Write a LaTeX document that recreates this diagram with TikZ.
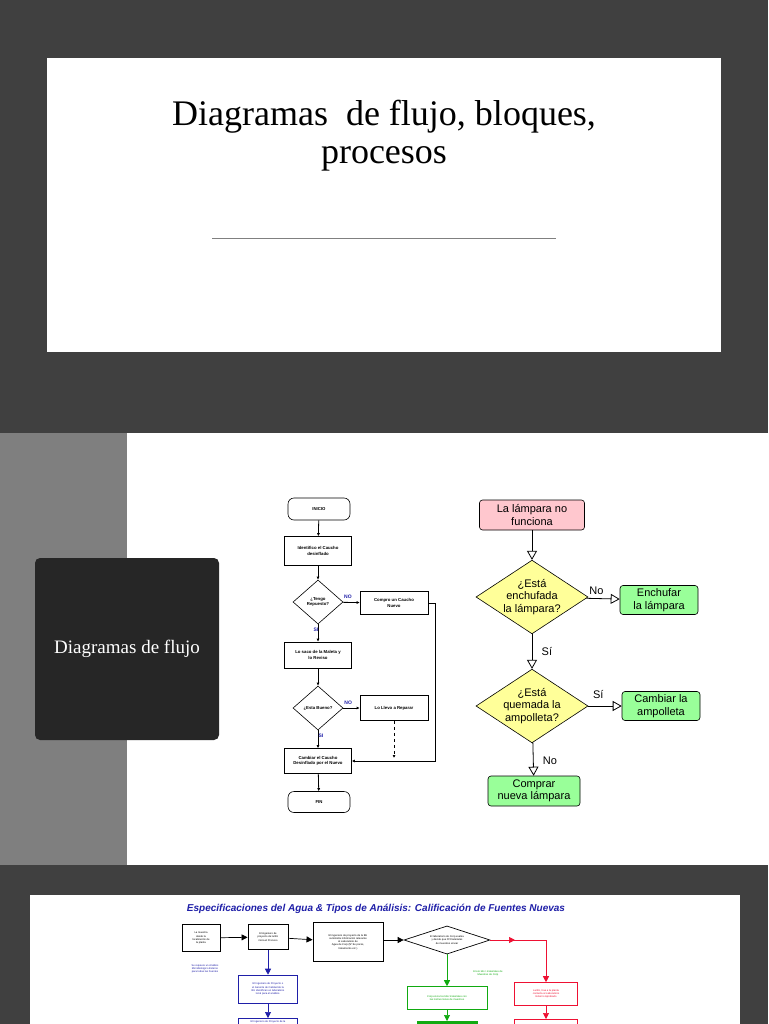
\documentclass[tikz,border=0pt]{standalone}
\usepackage{fontspec}
\newfontfamily\sans{Liberation Sans}
\newfontfamily\serif{Liberation Serif}
\usetikzlibrary{shapes.geometric,arrows.meta}
\definecolor{bgd}{HTML}{404040}
\definecolor{strip}{HTML}{7F7F7F}
\definecolor{pinkf}{HTML}{FFC7CE}
\definecolor{yel}{HTML}{FFFF99}
\definecolor{grn}{HTML}{99FF99}
\definecolor{tblue}{HTML}{1F1FA8}
\definecolor{tred}{HTML}{EE1133}
\definecolor{tgrn}{HTML}{11AA11}
\begin{document}
\begin{tikzpicture}[x=1pt,y=-1pt,
  lbox/.style={draw,line width=0.6pt,font=\sans\bfseries\fontsize{4.3}{5.3}\selectfont,align=center,inner sep=1pt},
  ldia/.style={lbox,diamond,shape aspect=1,minimum width=50pt,minimum height=44pt,inner sep=0pt},
  la/.style={-{Latex[length=3pt,width=3pt]},line width=0.8pt},
  rbox/.style={draw,line width=0.6pt,font=\sans\fontsize{11}{12.5}\selectfont,align=center,inner sep=1pt},
  ra/.style={-{Triangle[open,length=9pt,width=10pt,fill=white]},line width=0.8pt},
  rl/.style={font=\sans\fontsize{11}{12}\selectfont},
  tb/.style={draw,line width=0.6pt,font=\sans\fontsize{2.6}{3.2}\selectfont,align=center,inner sep=1pt},
  ta/.style={-{Triangle[length=6pt,width=6pt]},line width=0.7pt}]
\useasboundingbox (0,0) rectangle (768,1024);
\fill[bgd] (0,0) rectangle (768,1024);
% slide 1
\fill[white] (47,58) rectangle (721,352);
\node[font=\serif\fontsize{36}{38}\selectfont,align=center] (title) at (384,136) {Diagramas\ \ de flujo, bloques,\\procesos};
\draw[gray,line width=0.8pt] (212,238) -- (556,238);
% slide 2
\fill[white] (0,433) rectangle (768,865);
\fill[strip] (0,433) rectangle (127,865);
\fill[black!85,rounded corners=5pt] (35,558) rectangle (219,740);
\node[white,font=\serif\fontsize{19}{20}\selectfont] (st) at (127,649) {Diagramas de flujo};
% left flowchart
\node[lbox,rounded corners=6pt,minimum width=62pt,minimum height=22pt] (ini) at (319,509) {INICIO};
\node[lbox,minimum width=67pt,minimum height=29pt] (b1) at (318,551) {Identifico el Caucho\\desinflado};
\node[ldia] (d1) at (318,602) {¿Tengo\\Repuesto?};
\node[lbox,minimum width=68pt,minimum height=23pt] (b2) at (394,603) {Compro un Caucho\\Nuevo};
\node[lbox,minimum width=67pt,minimum height=26pt] (b3) at (318,655) {Lo saco de la Maleta y\\lo Reviso};
\node[ldia] (d2) at (318,708) {¿Esta Bueno?};
\node[lbox,minimum width=68pt,minimum height=25pt] (b4) at (394,708) {Lo Llevo a Reparar};
\node[lbox,minimum width=67pt,minimum height=25pt] (b5) at (318,761) {Cambiar el Caucho\\Desinflado por el Nuevo};
\node[lbox,rounded corners=6pt,minimum width=62pt,minimum height=21pt] (fin) at (319,802) {FIN};
\draw[la] (ini) -- (b1);
\draw[la] (b1) -- (d1);
\draw[la] (d1) -- node[above,pos=0.3,font=\sans\bfseries\fontsize{5}{6}\selectfont,text=tblue]{NO} (b2);
\draw[la] (d1) -- node[left,pos=0.3,font=\sans\bfseries\fontsize{5}{6}\selectfont,text=tblue,xshift=4pt]{SI} (b3);
\draw[la] (b3) -- (d2);
\draw[la] (d2) -- node[above,pos=0.3,font=\sans\bfseries\fontsize{5}{6}\selectfont,text=tblue]{NO} (b4);
\draw[la] (d2) -- node[left,pos=0.3,font=\sans\bfseries\fontsize{5}{6}\selectfont,text=tblue,xshift=9pt]{SI} (b5);
\draw[la] (b5) -- (fin);
\draw[la] (b2.east) -| (435,761) -- (b5.east);
\coordinate (dash) at (b4.south |- 0,758);
\draw[la,dashed] (b4.south) -- (dash);
% right flowchart
\node[rbox,fill=pinkf,rounded corners=3pt,minimum width=105pt,minimum height=30pt] (p) at (532,515) {La lámpara no\\funciona};
\node[rbox,fill=yel,diamond,aspect=1.5,minimum width=112pt,inner sep=0pt] (q1) at (532,597) {¿Está\\enchufada\\la lámpara?};
\node[rbox,fill=grn,rounded corners=3pt,minimum width=78pt,minimum height=29pt] (e1) at (659,600) {Enchufar\\la lámpara};
\node[rbox,fill=yel,diamond,aspect=1.5,minimum width=112pt,inner sep=0pt] (q2) at (532,706) {¿Está\\quemada la\\ampolleta?};
\node[rbox,fill=grn,rounded corners=3pt,minimum width=78pt,minimum height=29pt] (e2) at (661,706) {Cambiar la\\ampolleta};
\node[rbox,fill=grn,rounded corners=3pt,minimum width=92pt,minimum height=30pt] (e3) at (534,791) {Comprar\\nueva lámpara};
\draw[ra] (p) -- (q1);
\draw[ra] (q1) -- node[rl,above,pos=0.3]{No} (e1);
\draw[ra] (q1) -- node[rl,right,xshift=6pt]{Sí} (q2);
\draw[ra] (q2) -- node[rl,above,pos=0.3,yshift=4pt]{Sí} (e2);
\draw[ra] (q2) -- node[rl,right,xshift=6pt,yshift=-2pt]{No} (e3);
% slide 3
\fill[white] (30,895) rectangle (740,1024);
\node[font=\sans\bfseries\itshape\fontsize{10}{12}\selectfont,text=tblue] (t3) at (376,909) {Especificaciones del Agua \& Tipos de Análisis: Calificación de Fuentes Nuevas};
\node[tb,line width=0.9pt,minimum width=38pt,minimum height=27pt] (a) at (201,938) {La muestra\\desde la\\localización de\\la planta};
\node[tb,line width=0.9pt,minimum width=40pt,minimum height=25pt] (b) at (268,937) {El ingeniero de\\proyecto de la BU\\inicia el Proceso};
\node[tb,line width=0.9pt,minimum width=70pt,minimum height=39pt] (c) at (348,942) {El ingeniero de proyecto de la BU\\suministra información relevante\\al Laboratorio de\\Agua de Corp (Nº de pozos,\\tratamiento etc.)};
\node[tb,line width=0.7pt,diamond,aspect=1.7,minimum width=86pt,inner sep=0pt] (d) at (447,940) {El laboratorio de Corp evalúa\\y decide que Nº/materiales\\de muestreo enviar};
\node[font=\sans\fontsize{2.6}{3.2}\selectfont,text=tblue,align=center] (bt) at (205,969) {Se requiere un Análisis\\Microbiológico Externo\\para todas las Fuentes};
\node[tb,draw=tblue,text=tblue,minimum width=59pt,minimum height=28pt] (bb1) at (268,989) {El Ingeniero de Proyecto o\\el Gerente de Calidad de la\\BU identifican un laboratorio\\local para el análisis.};
\node[tb,draw=tblue,text=tblue,minimum width=59pt,minimum height=9pt,anchor=north,inner sep=0.5pt] (bb2) at (268,1018) {El Ingeniero de Proyecto de la\\ };
\node[font=\sans\fontsize{2.6}{3.2}\selectfont,text=tgrn,align=center] (gt) at (488,973) {Envío kits / materiales de\\Muestreo de Corp};
\node[tb,draw=tgrn,text=tgrn,minimum width=80pt,minimum height=23pt] (g1) at (447,998) {Corp envía los kits/ materiales con\\las instrucciones de muestreo};
\node[tb,draw=tgrn,fill=tgrn,minimum width=60pt,minimum height=10pt,anchor=north] (g2) at (447,1021) {};
\node[tb,draw=tred,text=tred,minimum width=63pt,minimum height=23pt] (r1) at (546,994) {La BU, trae a la planta\\contacta al Laboratorio\\Externo Aprobado};
\node[tb,draw=tred,minimum width=63pt,minimum height=10pt,anchor=north] (r2) at (546,1019) {};
\draw[ta] (a) -- (b);
\draw[ta] (b) -- (c);
\draw[ta] (c.east |- d) -- (d);
\draw[ta,tblue] (b) -- (bb1);
\draw[ta,tblue] (bb1) -- (bb2);
\draw[ta,tgrn] (d) -- (g1);
\draw[ta,tgrn] (g1) -- (g2);
\draw[ta,tred] (d.east) -- (515,940);
\draw[ta,tred] (d.east) -| (r1.north);
\draw[ta,tred] (r1) -- (r2);
\end{tikzpicture}
\end{document}
